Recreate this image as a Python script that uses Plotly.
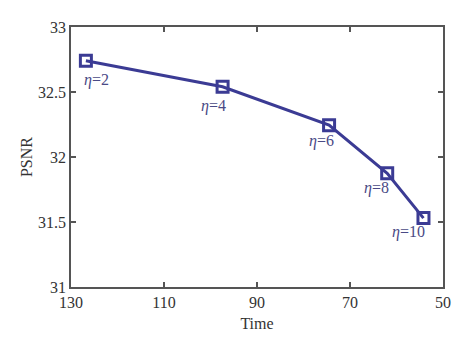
import plotly.graph_objects as go

time_vals = [126.8, 97.4, 74.5, 62.0, 54.2]
psnr_vals = [32.74, 32.54, 32.245, 31.875, 31.53]
eta_labels = ["2", "4", "6", "8", "10"]
label_dx = [11, -9, -8, -11, -15]
label_dy = [-19, -19, -16, -15, -14]

line_color = "#3b3b94"
axis_color = "#555555"
font_fam = "Liberation Serif, DejaVu Serif, serif"

fig = go.Figure()
fig.add_trace(go.Scatter(
    x=time_vals, y=psnr_vals, mode="lines+markers",
    line=dict(color=line_color, width=3),
    marker=dict(symbol="square-open", size=11, color=line_color,
                line=dict(width=3, color=line_color)),
    showlegend=False, hoverinfo="skip",
))

for x, y, e, dx, dy in zip(time_vals, psnr_vals, eta_labels, label_dx, label_dy):
    fig.add_annotation(x=x, y=y, text="<i>η</i>=" + e, showarrow=False,
                       xshift=dx, yshift=dy,
                       font=dict(family=font_fam, size=16, color="#4a4a86"))

axis_common = dict(
    showline=True, linecolor=axis_color, linewidth=1.6, mirror="ticks",
    ticks="inside", ticklen=5, tickwidth=1.6, tickcolor=axis_color,
    showgrid=False, zeroline=False,
    tickfont=dict(family=font_fam, size=16, color="#333333"),
)

fig.update_xaxes(range=[130, 50], tickvals=[130, 110, 90, 70, 50],
                 title=dict(text="Time", font=dict(family=font_fam, size=16, color="#333333"), standoff=8),
                 **axis_common)
fig.update_yaxes(range=[31, 33], tickvals=[31, 31.5, 32, 32.5, 33],
                 ticktext=["31", "31.5", "32", "32.5", "33"],
                 title=dict(text="PSNR", font=dict(family=font_fam, size=16, color="#333333"), standoff=1),
                 **axis_common)

fig.update_layout(
    width=474, height=351,
    margin=dict(l=71, r=31, t=27, b=64),
    paper_bgcolor="white", plot_bgcolor="white",
)

fig.write_html("out.html")
